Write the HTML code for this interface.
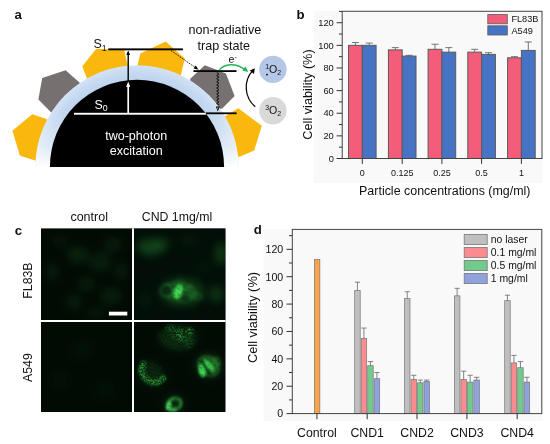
<!DOCTYPE html>
<html lang="en"><head><meta charset="utf-8"><title>Figure</title>
<style>html,body{margin:0;padding:0;background:#fff}svg{display:block}text{font-family:"Liberation Sans", Arial, sans-serif;fill:#111}</style>
</head><body>
<svg width="550" height="444" viewBox="0 0 550 444">
<defs>
<radialGradient id="ringr" gradientUnits="userSpaceOnUse" cx="137" cy="166.7" r="101.5"><stop offset="0.85" stop-color="#bdd4ee"/><stop offset="0.93" stop-color="#c6daf1"/><stop offset="1" stop-color="#d4e3f5"/></radialGradient>
<linearGradient id="ringg" gradientUnits="userSpaceOnUse" x1="0" y1="112" x2="0" y2="167"><stop offset="0" stop-color="#fff" stop-opacity="0"/><stop offset="0.6" stop-color="#fff" stop-opacity="0.45"/><stop offset="1" stop-color="#fff" stop-opacity="0.97"/></linearGradient>
<filter id="blur4" x="-50%" y="-50%" width="200%" height="200%"><feGaussianBlur stdDeviation="4"/></filter>
<filter id="blur15" x="-50%" y="-50%" width="200%" height="200%"><feGaussianBlur stdDeviation="1.6"/></filter>
<filter id="speck" x="-30%" y="-30%" width="160%" height="160%" color-interpolation-filters="sRGB"><feGaussianBlur in="SourceGraphic" stdDeviation="1.3" result="b"/><feTurbulence type="fractalNoise" baseFrequency="0.35" numOctaves="2" seed="3" result="n"/><feColorMatrix in="n" type="matrix" values="0 0 0 0 1  0 0 0 0 1  0 0 0 0 1  1.1 0 0 0 0.42" result="na"/><feComposite in="b" in2="na" operator="in"/></filter>
<filter id="speck2" x="-30%" y="-30%" width="160%" height="160%" color-interpolation-filters="sRGB"><feGaussianBlur in="SourceGraphic" stdDeviation="1.1" result="b"/><feTurbulence type="fractalNoise" baseFrequency="0.55" numOctaves="2" seed="7" result="n"/><feColorMatrix in="n" type="matrix" values="0 0 0 0 1  0 0 0 0 1  0 0 0 0 1  3 0 0 0 -1.05" result="na"/><feComposite in="b" in2="na" operator="in" result="c"/><feGaussianBlur in="c" stdDeviation="0.55"/></filter>
<clipPath id="clipc"><rect x="41" y="228.4" width="184.5" height="183.6"/></clipPath>
<clipPath id="clipTL"><rect x="41" y="228.4" width="91" height="91.6"/></clipPath>
<clipPath id="clipBL"><rect x="41" y="322" width="91" height="90"/></clipPath>
<clipPath id="clipTR"><rect x="134" y="228.4" width="91.5" height="91.6"/></clipPath>
<clipPath id="clipBR"><rect x="134" y="322" width="91.5" height="90"/></clipPath>
</defs>
<rect width="550" height="444" fill="#fff"/>
<g id="panel-a">
<polygon points="32.3,114.3 12.4,130.7 20,155.8 36,160.8 60,150 46.5,119" fill="#fab70d"/>
<polygon points="65.6,70.3 42.2,78 38.4,99.5 51,112.3 75,110 80,83" fill="#767070"/>
<polygon points="96.3,48.7 82.3,66.2 88,81 129,72 124.2,50" fill="#fab70d"/>
<polygon points="165.7,41.5 184.8,58.6 180.6,76 160,84 137.4,66 140.3,53.5" fill="#fab70d"/>
<polygon points="204.8,65.3 225.9,73.6 234.6,95.9 222.2,108.5 200,112 190,79" fill="#767070"/>
<polygon points="238.3,108.2 261.8,125.7 254.2,150.5 239.5,156.8 215,150 223,117.5" fill="#fab70d"/>
<path d="M35.4,166.9 A101.6,101.6 0 0 1 238.6,166.9 L223.1,166.9 A86.1,86.1 0 0 0 50.9,166.9 Z" fill="url(#ringr)"/>
<path d="M35.4,166.9 A101.6,101.6 0 0 1 238.6,166.9 L223.1,166.9 A86.1,86.1 0 0 0 50.9,166.9 Z" fill="url(#ringg)"/>
<path d="M49.9,166.9 A87.1,87.1 0 0 1 224.1,166.9 Z" fill="#000"/>
<rect x="74" y="112.8" width="132" height="1.9" fill="#fff"/>
<rect x="205.8" y="112.4" width="30.8" height="1.8" fill="#000"/>
<rect x="108.3" y="48.4" width="74.6" height="1.9" fill="#000"/>
<rect x="193.5" y="70.2" width="43" height="1.8" fill="#000"/>
<rect x="127.5" y="52" width="1.4" height="30" fill="#000"/>
<polygon points="128.2,50.4 126.3,55 130.1,55" fill="#000"/>
<rect x="127.35" y="84" width="1.7" height="29.5" fill="#fff"/>
<polygon points="128.2,81.6 126.2,87 130.2,87" fill="#fff"/>
<line x1="171" y1="50.5" x2="196" y2="68" stroke="#000" stroke-width="0.9" stroke-dasharray="1.2,1"/>
<polygon points="198.5,69.8 193.6,68.6 195.8,65.6" fill="#000"/>
<polyline points="216.65,72.5 218.95,74.05 216.65,75.6 218.95,77.15 216.65,78.7 218.95,80.25 216.65,81.8 218.95,83.35 216.65,84.9 218.95,86.45 216.65,88 218.95,89.55 216.65,91.1 218.95,92.65 216.65,94.2 218.95,95.75 216.65,97.3 218.95,98.85 216.65,100.4 218.95,101.95 216.65,103.5 218.95,105.05" fill="none" stroke="#000" stroke-width="0.85"/>
<polygon points="217.8,111.6 215.8,106.4 219.8,106.4" fill="#000"/>
<polygon points="217.8,109.4 217.2,107.4 218.4,107.4" fill="#fff"/>
<path d="M219.3,70.2 C224,63.5 236,62.5 245,69.8" fill="none" stroke="#1fb45a" stroke-width="1.3"/>
<polygon points="248.2,72 242.2,70.6 245.6,66.6" fill="#1fb45a"/>
<circle cx="272.9" cy="69.4" r="13.7" fill="#b4c7e7"/>
<circle cx="272.9" cy="110.8" r="13.7" fill="#d9d9d9"/>
<path d="M255.2,106.8 C244,97 243.5,81 252.3,71.2" fill="none" stroke="#000" stroke-width="1.2"/>
<polygon points="254.8,68.2 254,74 249.8,70.6" fill="#000"/>
<text x="14.5" y="19" font-size="13.2" font-weight="bold">a</text>
<text x="93.6" y="48.4" font-size="12.4">S<tspan font-size="8.8" dy="2.4">1</tspan></text>
<text x="94.4" y="108.6" font-size="12.4" style="fill:#fff">S<tspan font-size="8.8" dy="2.6">0</tspan></text>
<text x="136.2" y="140.4" font-size="12.55" style="fill:#fff" text-anchor="middle">two-photon</text>
<text x="136.2" y="154.8" font-size="12.55" style="fill:#fff" text-anchor="middle">excitation</text>
<text x="224.8" y="34.4" font-size="12.6" text-anchor="middle">non-radiative</text>
<text x="223.8" y="50" font-size="12.6" text-anchor="middle">trap state</text>
<text x="228.6" y="63" font-size="10.5">e<tspan font-size="7" dy="-3.6">-</tspan></text>
<text x="265.2" y="72.8" font-size="10.6"><tspan font-size="7" dy="-3.6">1</tspan><tspan dy="3.6">O</tspan><tspan font-size="7" dy="2.4">2</tspan></text>
<circle cx="267" cy="74.6" r="0.9" fill="#000"/>
<text x="265.2" y="114" font-size="10.6"><tspan font-size="7" dy="-3.6">3</tspan><tspan dy="3.6">O</tspan><tspan font-size="7" dy="2.4">2</tspan></text>
</g>
<g id="panel-b">
<rect x="314" y="10.8" width="228.5" height="172.2" fill="#f9f9f9"/>
<rect x="348.5" y="45.35" width="13.8" height="113.15" fill="#f35d7a" stroke="#5a5a5a" stroke-width="1"/>
<path d="M355.4,45.35 V42.52 M351.9,42.52 H358.9" stroke="#555" stroke-width="0.8" fill="none"/>
<rect x="362.3" y="45.35" width="13.8" height="113.15" fill="#4673c4" stroke="#5a5a5a" stroke-width="1"/>
<path d="M369.2,45.35 V43.09 M365.7,43.09 H372.7" stroke="#555" stroke-width="0.8" fill="none"/>
<rect x="388.4" y="49.88" width="13.8" height="108.62" fill="#f35d7a" stroke="#5a5a5a" stroke-width="1"/>
<path d="M395.3,49.88 V47.61 M391.8,47.61 H398.8" stroke="#555" stroke-width="0.8" fill="none"/>
<rect x="402.2" y="56.1" width="13.8" height="102.4" fill="#4673c4" stroke="#5a5a5a" stroke-width="1"/>
<path d="M409.1,56.1 V55.31 M405.6,55.31 H412.6" stroke="#555" stroke-width="0.8" fill="none"/>
<rect x="428.1" y="49.31" width="13.8" height="109.19" fill="#f35d7a" stroke="#5a5a5a" stroke-width="1"/>
<path d="M435,49.31 V44.22 M431.5,44.22 H438.5" stroke="#555" stroke-width="0.8" fill="none"/>
<rect x="441.9" y="52.14" width="13.8" height="106.36" fill="#4673c4" stroke="#5a5a5a" stroke-width="1"/>
<path d="M448.8,52.14 V47.61 M445.3,47.61 H452.3" stroke="#555" stroke-width="0.8" fill="none"/>
<rect x="467.8" y="52.14" width="13.8" height="106.36" fill="#f35d7a" stroke="#5a5a5a" stroke-width="1"/>
<path d="M474.7,52.14 V49.31 M471.2,49.31 H478.2" stroke="#555" stroke-width="0.8" fill="none"/>
<rect x="481.6" y="54.4" width="13.8" height="104.1" fill="#4673c4" stroke="#5a5a5a" stroke-width="1"/>
<path d="M488.5,54.4 V52.7 M485,52.7 H492" stroke="#555" stroke-width="0.8" fill="none"/>
<rect x="507.6" y="57.8" width="13.8" height="100.7" fill="#f35d7a" stroke="#5a5a5a" stroke-width="1"/>
<path d="M514.5,57.8 V56.67 M511,56.67 H518" stroke="#555" stroke-width="0.8" fill="none"/>
<rect x="521.4" y="50.44" width="13.8" height="108.06" fill="#4673c4" stroke="#5a5a5a" stroke-width="1"/>
<path d="M528.3,50.44 V41.96 M524.8,41.96 H531.8" stroke="#555" stroke-width="0.8" fill="none"/>
<rect x="342.2" y="11.3" width="199.8" height="147.2" fill="none" stroke="#444" stroke-width="1"/>
<path d="M342.2,158.5 h-5.6 M342.2,135.87 h-5.6 M342.2,113.24 h-5.6 M342.2,90.61 h-5.6 M342.2,67.98 h-5.6 M342.2,45.35 h-5.6 M342.2,22.72 h-5.6 M342.2,147.19 h-3.2 M342.2,124.56 h-3.2 M342.2,101.93 h-3.2 M342.2,79.3 h-3.2 M342.2,56.67 h-3.2 M342.2,34.04 h-3.2 M342.2,11.41 h-3.2 M362.3,158.5 v5.4 M402.2,158.5 v5.4 M441.9,158.5 v5.4 M481.6,158.5 v5.4 M521.4,158.5 v5.4" stroke="#333" stroke-width="1" fill="none"/>
<text x="333.8" y="161.7" font-size="9.3" text-anchor="end">0</text>
<text x="333.8" y="139.07" font-size="9.3" text-anchor="end">20</text>
<text x="333.8" y="116.44" font-size="9.3" text-anchor="end">40</text>
<text x="333.8" y="93.81" font-size="9.3" text-anchor="end">60</text>
<text x="333.8" y="71.18" font-size="9.3" text-anchor="end">80</text>
<text x="333.8" y="48.55" font-size="9.3" text-anchor="end">100</text>
<text x="333.8" y="25.92" font-size="9.3" text-anchor="end">120</text>
<text x="362.3" y="175.8" font-size="9" text-anchor="middle">0</text>
<text x="402.2" y="175.8" font-size="9" text-anchor="middle">0.125</text>
<text x="441.9" y="175.8" font-size="9" text-anchor="middle">0.25</text>
<text x="481.6" y="175.8" font-size="9" text-anchor="middle">0.5</text>
<text x="521.4" y="175.8" font-size="9" text-anchor="middle">1</text>
<text transform="translate(312,94.5) rotate(-90)" font-size="12.7" text-anchor="middle">Cell viability (%)</text>
<text x="444.8" y="195.3" font-size="12.45" text-anchor="middle">Particle concentrations (mg/ml)</text>
<rect x="487.8" y="14.6" width="19.5" height="9.2" fill="#f35d7a" stroke="#5a5a5a" stroke-width="0.8"/>
<rect x="487.8" y="25.8" width="19.5" height="9.2" fill="#4673c4" stroke="#5a5a5a" stroke-width="0.8"/>
<text x="511.4" y="22.4" font-size="9.2">FL83B</text>
<text x="511.4" y="33.7" font-size="9.2">A549</text>
<text x="296.6" y="18.8" font-size="13.2" font-weight="bold">b</text>
</g>
<g id="panel-c">
<rect x="41" y="228.4" width="184.5" height="183.6" fill="#020a04"/>
<g clip-path="url(#clipTL)"><g filter="url(#blur4)">
<ellipse cx="78" cy="255" rx="11" ry="9" fill="#40e052" opacity="0.1"/>
<ellipse cx="100" cy="262" rx="11" ry="10" fill="#40e052" opacity="0.09"/>
<ellipse cx="113" cy="245" rx="9" ry="8" fill="#40e052" opacity="0.08"/>
<ellipse cx="52" cy="272" rx="8" ry="9" fill="#40e052" opacity="0.07"/>
<ellipse cx="86" cy="284" rx="9" ry="8" fill="#40e052" opacity="0.08"/>
<ellipse cx="111" cy="296" rx="11" ry="9" fill="#40e052" opacity="0.09"/>
<ellipse cx="74" cy="302" rx="8" ry="8" fill="#40e052" opacity="0.08"/>
<ellipse cx="121" cy="271" rx="7" ry="9" fill="#40e052" opacity="0.07"/>
<ellipse cx="60" cy="241" rx="8" ry="7" fill="#40e052" opacity="0.05"/>
<ellipse cx="96" cy="313" rx="9" ry="7" fill="#40e052" opacity="0.06"/>
</g></g>
<g clip-path="url(#clipBL)"><g filter="url(#blur4)">
<ellipse cx="82" cy="350" rx="11" ry="9" fill="#40e052" opacity="0.035"/>
<ellipse cx="105" cy="390" rx="11" ry="9" fill="#40e052" opacity="0.03"/>
<ellipse cx="60" cy="380" rx="9" ry="9" fill="#40e052" opacity="0.025"/>
</g></g>
<g clip-path="url(#clipTR)">
<rect x="134" y="228.4" width="91.5" height="91.6" fill="#04100a" opacity=".6"/>
<g filter="url(#blur4)">
<ellipse cx="151" cy="247" rx="14" ry="8" fill="#40e052" opacity="0.24"/>
<ellipse cx="163" cy="243" rx="8" ry="6" fill="#40e052" opacity="0.1"/>
<ellipse cx="221" cy="254" rx="6" ry="11" fill="#40e052" opacity="0.2"/>
<ellipse cx="216" cy="294" rx="7" ry="8" fill="#40e052" opacity="0.18"/>
<ellipse cx="190" cy="240" rx="10" ry="7" fill="#40e052" opacity="0.04"/>
<ellipse cx="145" cy="300" rx="7" ry="9" fill="#40e052" opacity="0.04"/>
<ellipse cx="203" cy="268" rx="9" ry="7" fill="#40e052" opacity="0.03"/>
<ellipse cx="182" cy="292" rx="22" ry="14" fill="#40e052" opacity="0.2"/>
</g>
<g filter="url(#speck)">
<ellipse cx="180" cy="292" rx="17.5" ry="11" fill="#40e052" opacity="0.12" transform="rotate(8 180 292)"/>
<ellipse cx="179" cy="283" rx="7" ry="5" fill="#40e052" opacity="0.08"/>
<ellipse cx="196" cy="296" rx="8" ry="5" fill="#40e052" opacity="0.1" transform="rotate(10 196 296)"/>
<ellipse cx="187" cy="288.5" rx="7" ry="3.5" fill="#40e052" opacity="0.16" transform="rotate(-20 187 288.5)"/>
<ellipse cx="166.5" cy="290.5" rx="7.5" ry="8" fill="#40e052" opacity="0.13"/>
<ellipse cx="166.5" cy="290.7" rx="4.4" ry="4.8" fill="#03100a" opacity="0.65"/>
<ellipse cx="185.5" cy="299" rx="3.6" ry="3" fill="#03100a" opacity="0.4"/>
<ellipse cx="178.2" cy="291.5" rx="4.6" ry="8" fill="#40e052" opacity="0.72" transform="rotate(20 178.2 291.5)"/>
<ellipse cx="177.8" cy="293" rx="2.8" ry="5" fill="#58f568" opacity="0.6" transform="rotate(15 177.8 293)"/>
</g>
</g>
<g clip-path="url(#clipBR)">
<g filter="url(#blur4)">
<ellipse cx="178" cy="338" rx="20" ry="12.5" fill="#40e052" opacity="0.11"/>
<ellipse cx="209" cy="366" rx="14" ry="13" fill="#40e052" opacity="0.13"/>
<ellipse cx="151" cy="374" rx="15" ry="12" fill="#40e052" opacity="0.09" transform="rotate(30 151 374)"/>
<ellipse cx="174" cy="404" rx="11" ry="9" fill="#40e052" opacity="0.12"/>
</g>
<g filter="url(#speck2)">
<ellipse cx="177.5" cy="338" rx="19.5" ry="12.5" fill="#40e052" opacity="0.07" transform="rotate(5 177.5 338)"/>
<ellipse cx="181" cy="334" rx="11" ry="7.5" fill="#40e052" opacity="0.17" transform="rotate(10 181 334)"/>
<ellipse cx="190" cy="330.5" rx="3.5" ry="3.5" fill="#40e052" opacity="0.5"/>
<ellipse cx="170" cy="327.5" rx="4.5" ry="3" fill="#40e052" opacity="0.4"/>
<ellipse cx="179" cy="333" rx="3" ry="3" fill="#40e052" opacity="0.45"/>
<ellipse cx="180.5" cy="338" rx="3" ry="3" fill="#40e052" opacity="0.4"/>
<ellipse cx="189" cy="343" rx="4.5" ry="7" fill="#40e052" opacity="0.14"/>
</g>
<g filter="url(#speck)">
<ellipse cx="208.5" cy="366" rx="12.5" ry="10.5" fill="#40e052" opacity="0.26" transform="rotate(40 208.5 366)"/>
<ellipse cx="216" cy="362" rx="5" ry="6" fill="#40e052" opacity="0.2"/>
<ellipse cx="202.3" cy="370.2" rx="4" ry="7" fill="#40e052" opacity="0.8" transform="rotate(-8 202.3 370.2)"/>
<ellipse cx="209" cy="365.4" rx="8" ry="2.7" fill="#40e052" opacity="0.8" transform="rotate(50 209 365.4)"/>
<ellipse cx="202" cy="371.5" rx="2" ry="3.5" fill="#60f870" opacity="0.4" transform="rotate(-8 202 371.5)"/>
<line x1="201.5" y1="360.5" x2="210.5" y2="376" stroke="#03140a" stroke-width="1.7" opacity=".8"/>
</g>
<g filter="url(#speck2)">
<ellipse cx="152" cy="373" rx="13.5" ry="10" fill="#40e052" opacity="0.07" transform="rotate(32 152 373)"/>
<path d="M143.5,363.5 Q138,372 147,379.5 Q155.5,386.5 163.5,378" fill="none" stroke="#40e052" stroke-width="6" stroke-linecap="round" opacity=".5"/>
</g>
<g filter="url(#blur15)">
<path d="M143.5,363.5 Q138,372 147,379.5 Q155.5,386.5 163.5,378" fill="none" stroke="#40e052" stroke-width="5" stroke-linecap="round" opacity=".14"/>
</g>
<g filter="url(#speck)">
<ellipse cx="174.2" cy="404" rx="8.6" ry="7.4" fill="#40e052" opacity="0.5" transform="rotate(-20 174.2 404)"/>
<ellipse cx="175.2" cy="403.6" rx="4.3" ry="3.8" fill="#041a0a" opacity="0.85" transform="rotate(-20 175.2 403.6)"/>
<ellipse cx="168.6" cy="406" rx="2.4" ry="4.6" fill="#60f870" opacity="0.7" transform="rotate(20 168.6 406)"/>
<ellipse cx="172.5" cy="410" rx="4.5" ry="1.8" fill="#60f870" opacity="0.35"/>
</g>
</g>
<rect x="132" y="228.4" width="2" height="183.6" fill="#fff"/>
<rect x="41" y="320" width="184.5" height="2" fill="#fff"/>
<rect x="108.9" y="311.7" width="18.4" height="3.8" fill="#fff"/>
<text x="89.2" y="221" font-size="12.5" text-anchor="middle">control</text>
<text x="177" y="221" font-size="12.3" text-anchor="middle">CND 1mg/ml</text>
<text transform="translate(31.9,280.6) rotate(-90)" font-size="12.3" text-anchor="middle">FL83B</text>
<text transform="translate(31.9,367.6) rotate(-90)" font-size="12.3" text-anchor="middle">A549</text>
<text x="14.7" y="234.6" font-size="13.2" font-weight="bold">c</text>
</g>
<g id="panel-d">
<rect x="263.5" y="229" width="278.8" height="192" fill="#f9f9f9"/>
<rect x="314.35" y="259.59" width="5.5" height="154.01" fill="#fba24c" stroke="#777" stroke-width="0.7"/>
<rect x="354.7" y="290.39" width="5.5" height="123.21" fill="#bfbfbf" stroke="#777" stroke-width="0.7"/>
<path d="M357.45,290.39 V282.18 M354.85,282.18 H360.05" stroke="#666" stroke-width="0.8" fill="none"/>
<rect x="361.2" y="338.31" width="5.5" height="75.3" fill="#fa8c90" stroke="#777" stroke-width="0.7"/>
<path d="M363.95,338.31 V328.04 M361.35,328.04 H366.55" stroke="#666" stroke-width="0.8" fill="none"/>
<rect x="367.7" y="365.69" width="5.5" height="47.92" fill="#74c98d" stroke="#777" stroke-width="0.7"/>
<path d="M370.45,365.69 V361.58 M367.85,361.58 H373.05" stroke="#666" stroke-width="0.8" fill="none"/>
<rect x="374.2" y="378.69" width="5.5" height="34.91" fill="#8fa2de" stroke="#777" stroke-width="0.7"/>
<path d="M376.95,378.69 V372.53 M374.35,372.53 H379.55" stroke="#666" stroke-width="0.8" fill="none"/>
<rect x="404.5" y="298.6" width="5.5" height="115" fill="#bfbfbf" stroke="#777" stroke-width="0.7"/>
<path d="M407.25,298.6 V291.76 M404.65,291.76 H409.85" stroke="#666" stroke-width="0.8" fill="none"/>
<rect x="411" y="379.38" width="5.5" height="34.23" fill="#fa8c90" stroke="#777" stroke-width="0.7"/>
<path d="M413.75,379.38 V375.27 M411.15,375.27 H416.35" stroke="#666" stroke-width="0.8" fill="none"/>
<rect x="417.5" y="382.8" width="5.5" height="30.8" fill="#74c98d" stroke="#777" stroke-width="0.7"/>
<path d="M420.25,382.8 V380.06 M417.65,380.06 H422.85" stroke="#666" stroke-width="0.8" fill="none"/>
<rect x="424" y="381.43" width="5.5" height="32.17" fill="#8fa2de" stroke="#777" stroke-width="0.7"/>
<path d="M426.75,381.43 V380.06 M424.15,380.06 H429.35" stroke="#666" stroke-width="0.8" fill="none"/>
<rect x="454.4" y="295.87" width="5.5" height="117.73" fill="#bfbfbf" stroke="#777" stroke-width="0.7"/>
<path d="M457.15,295.87 V288.34 M454.55,288.34 H459.75" stroke="#666" stroke-width="0.8" fill="none"/>
<rect x="460.9" y="379.38" width="5.5" height="34.23" fill="#fa8c90" stroke="#777" stroke-width="0.7"/>
<path d="M463.65,379.38 V371.16 M461.05,371.16 H466.25" stroke="#666" stroke-width="0.8" fill="none"/>
<rect x="467.4" y="382.11" width="5.5" height="31.49" fill="#74c98d" stroke="#777" stroke-width="0.7"/>
<path d="M470.15,382.11 V375.27 M467.55,375.27 H472.75" stroke="#666" stroke-width="0.8" fill="none"/>
<rect x="473.9" y="380.06" width="5.5" height="33.54" fill="#8fa2de" stroke="#777" stroke-width="0.7"/>
<path d="M476.65,380.06 V377.32 M474.05,377.32 H479.25" stroke="#666" stroke-width="0.8" fill="none"/>
<rect x="504.7" y="300.66" width="5.5" height="112.94" fill="#bfbfbf" stroke="#777" stroke-width="0.7"/>
<path d="M507.45,300.66 V295.18 M504.85,295.18 H510.05" stroke="#666" stroke-width="0.8" fill="none"/>
<rect x="511.2" y="362.95" width="5.5" height="50.65" fill="#fa8c90" stroke="#777" stroke-width="0.7"/>
<path d="M513.95,362.95 V355.42 M511.35,355.42 H516.55" stroke="#666" stroke-width="0.8" fill="none"/>
<rect x="517.7" y="367.74" width="5.5" height="45.86" fill="#74c98d" stroke="#777" stroke-width="0.7"/>
<path d="M520.45,367.74 V361.58 M517.85,361.58 H523.05" stroke="#666" stroke-width="0.8" fill="none"/>
<rect x="524.2" y="382.11" width="5.5" height="31.49" fill="#8fa2de" stroke="#777" stroke-width="0.7"/>
<path d="M526.95,382.11 V377.32 M524.35,377.32 H529.55" stroke="#666" stroke-width="0.8" fill="none"/>
<rect x="292.3" y="229.4" width="249.5" height="184.2" fill="none" stroke="#444" stroke-width="1"/>
<path d="M292.3,413.6 h-5.8 M292.3,386.22 h-5.8 M292.3,358.84 h-5.8 M292.3,331.46 h-5.8 M292.3,304.08 h-5.8 M292.3,276.7 h-5.8 M292.3,249.32 h-5.8 M292.3,399.91 h-3.3 M292.3,372.53 h-3.3 M292.3,345.15 h-3.3 M292.3,317.77 h-3.3 M292.3,290.39 h-3.3 M292.3,263.01 h-3.3 M292.3,235.63 h-3.3 M316.9,413.6 v5.6 M367.2,413.6 v5.6 M417,413.6 v5.6 M466.9,413.6 v5.6 M517.2,413.6 v5.6" stroke="#333" stroke-width="1" fill="none"/>
<text x="283.2" y="417.4" font-size="10.6" text-anchor="end">0</text>
<text x="283.2" y="390.02" font-size="10.6" text-anchor="end">20</text>
<text x="283.2" y="362.64" font-size="10.6" text-anchor="end">40</text>
<text x="283.2" y="335.26" font-size="10.6" text-anchor="end">60</text>
<text x="283.2" y="307.88" font-size="10.6" text-anchor="end">80</text>
<text x="283.2" y="280.5" font-size="10.6" text-anchor="end">100</text>
<text x="283.2" y="253.12" font-size="10.6" text-anchor="end">120</text>
<text x="316.9" y="437.3" font-size="12.3" text-anchor="middle">Control</text>
<text x="367.2" y="437.3" font-size="12.3" text-anchor="middle">CND1</text>
<text x="417" y="437.3" font-size="12.3" text-anchor="middle">CND2</text>
<text x="466.9" y="437.3" font-size="12.3" text-anchor="middle">CND3</text>
<text x="517.2" y="437.3" font-size="12.3" text-anchor="middle">CND4</text>
<text transform="translate(257.3,317.5) rotate(-90)" font-size="12.8" text-anchor="middle">Cell viability (%)</text>
<rect x="464.2" y="234.4" width="23" height="10.2" fill="#bfbfbf" stroke="#777" stroke-width="0.8"/>
<text x="490.8" y="243.1" font-size="10.4">no laser</text>
<rect x="464.2" y="247.4" width="23" height="10.2" fill="#fa8c90" stroke="#777" stroke-width="0.8"/>
<text x="490.8" y="256.1" font-size="10.4">0.1 mg/ml</text>
<rect x="464.2" y="260.4" width="23" height="10.2" fill="#74c98d" stroke="#777" stroke-width="0.8"/>
<text x="490.8" y="269.1" font-size="10.4">0.5 mg/ml</text>
<rect x="464.2" y="273.4" width="23" height="10.2" fill="#8fa2de" stroke="#777" stroke-width="0.8"/>
<text x="490.8" y="282.1" font-size="10.4">1 mg/ml</text>
<text x="253.8" y="234.4" font-size="13.2" font-weight="bold">d</text>
</g>
</svg>
</body></html>
